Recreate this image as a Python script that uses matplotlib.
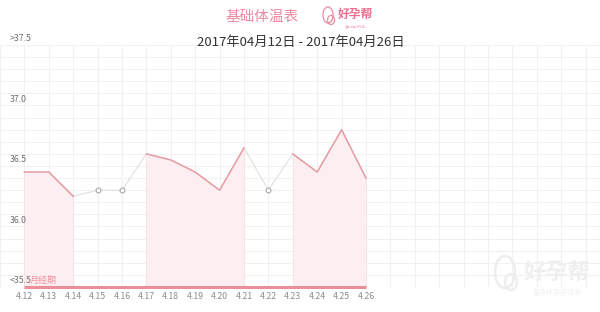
import numpy as np
import matplotlib
matplotlib.use('Agg')
import matplotlib.pyplot as plt
from matplotlib.patches import Ellipse

plt.rcParams['font.family'] = ['Noto Sans CJK SC', 'DejaVu Sans']

# data
dates = ['4.12', '4.13', '4.14', '4.15', '4.16', '4.17', '4.18', '4.19',
         '4.20', '4.21', '4.22', '4.23', '4.24', '4.25', '4.26']
temps = [36.45, 36.45, 36.25, 36.3, 36.3, 36.6, 36.55, 36.45,
         36.3, 36.65, 36.3, 36.6, 36.45, 36.8, 36.4]
# False = no reading that day (hollow grey point)
measured = [True, True, True, False, False, True, True, True,
            True, True, False, True, True, True, True]
period = [True] * 15
ytick_vals = [35.5, 36.0, 36.5, 37.0, 37.5]
ytick_text = ['<35.5', '36.0', '36.5', '37.0', '>37.5']

pink_line = '#e69ca5'
pink_fill = '#fdeff1'
red_bar = '#eb8e99'

fig = plt.figure(figsize=(6, 3.12), dpi=100)
ax = fig.add_axes([0, 25 / 312, 1, 242 / 312])

x = np.arange(len(dates))
ax.set_xlim(-1, (600 - 24.4) / 24.4)
ax.set_ylim(35.5, 37.5)

# grid: every day and every 0.1 degree
for gx in np.arange(-1, 25):
    ax.axvline(gx, color='#f1f1f1', lw=0.8, zorder=0)
for gy in np.arange(35.5, 37.51, 0.1):
    ax.axhline(gy, color='#f1f1f1', lw=0.8, zorder=0)

# grey line through everything
ax.plot(x, temps, color='#e0e0e0', lw=0.8, zorder=2)

# measured segments: pink line with fill
segs = []
start = None
for i, m in enumerate(measured):
    if m and start is None:
        start = i
    if (not m or i == len(measured) - 1) and start is not None:
        end = i if m else i - 1
        segs.append((start, end))
        start = None
for s, e in segs:
    xs = x[s:e + 1]
    ys = temps[s:e + 1]
    ax.fill_between(xs, ys, 35.5, color=pink_fill, lw=0, zorder=1)
    ax.vlines([xs[0], xs[-1]], 35.5, [ys[0], ys[-1]], color='#f8e0e3', lw=0.6, zorder=1)
    ax.plot(xs, ys, color=pink_line, lw=1.1, zorder=3)

# hollow points where no reading
mx = [xi for xi, m in zip(x, measured) if not m]
my = [t for t, m in zip(temps, measured) if not m]
ax.scatter(mx, my, s=12, facecolor='white', edgecolor='#a8a8a8', lw=0.8, zorder=4)

# period bar at the bottom
px = [xi for xi, p in zip(x, period) if p]
ax.plot([px[0], px[-1]], [35.5, 35.5], color=red_bar, lw=2.2, zorder=5,
        solid_capstyle='butt', clip_on=False)
ax.text(0.2, 35.52, '月经期', color='#f0909e', fontsize=6.5, va='bottom', ha='left', zorder=6)

for sp in ax.spines.values():
    sp.set_visible(False)
ax.set_xticks([])
ax.set_yticks([])

# x labels
for xi, d in zip(x, dates):
    ax.text(xi, 35.5 - 0.045, d, fontsize=6.3, color='#8c8c8c',
            ha='center', va='top', clip_on=False)
# y labels, sitting just above their lines
for v, t in zip(ytick_vals, ytick_text):
    ax.text(-0.62, v + 0.015, t, fontsize=6.3, color='#6e6e6e', ha='left',
            va='bottom', clip_on=False)

# titles
fig.text(262 / 600, 1 - 17 / 312, '基础体温表', color='#ec8aa0', fontsize=10.5,
         ha='center', va='center')
fig.text(301 / 600, 1 - 42 / 312, '2017年04月12日 - 2017年04月26日', color='#333333',
         fontsize=9.5, ha='center', va='center')

# small logo next to title
fig.text(355 / 600, 1 - 14 / 312, '好孕帮', color='#ec6f90', fontsize=8.5,
         fontweight='bold', ha='center', va='center')
fig.text(355 / 600, 1 - 26 / 312, '备孕怀孕好帮手', color='#f2a9bb', fontsize=2.2,
         ha='center', va='center')
fig.patches.append(Ellipse((328 / 600, 1 - 15 / 312), 10 / 600, 16 / 312,
                           transform=fig.transFigure, fill=False,
                           edgecolor='#ec8aa0', lw=0.9))
fig.patches.append(Ellipse((331 / 600, 1 - 20 / 312), 7 / 600, 9 / 312,
                           transform=fig.transFigure, fill=False,
                           edgecolor='#ec8aa0', lw=0.9))

# watermark bottom right
fig.text(557 / 600, 1 - 272 / 312, '好孕帮', color='#efefef', fontsize=16,
         fontweight='bold', ha='center', va='center')
fig.text(557 / 600, 1 - 293 / 312, '备孕怀孕好帮手', color='#f0f0f0', fontsize=5,
         ha='center', va='center')
fig.patches.append(Ellipse((505 / 600, 1 - 272 / 312), 20 / 600, 32 / 312,
                           transform=fig.transFigure, fill=False,
                           edgecolor='#eeeeee', lw=1.8))
fig.patches.append(Ellipse((511 / 600, 1 - 282 / 312), 12 / 600, 16 / 312,
                           transform=fig.transFigure, fill=False,
                           edgecolor='#eeeeee', lw=1.8))

fig.savefig('out.png', dpi=100, facecolor='white')
